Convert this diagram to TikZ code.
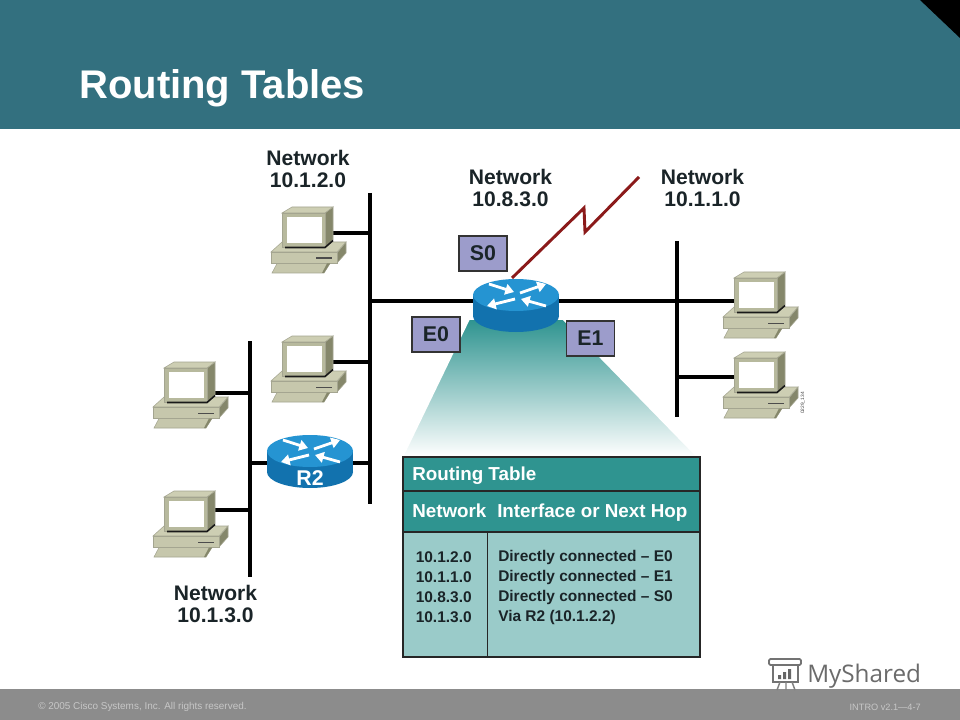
\documentclass[tikz,border=0pt]{standalone}
\usepackage{fontspec}
\setmainfont{Liberation Sans}
\newfontfamily\wmfont{Open Sans}
\usetikzlibrary{arrows.meta}
\pgfdeclarelayer{bg}
\pgfsetlayers{bg,main}
\definecolor{headerteal}{HTML}{33707F}
\definecolor{footgray}{HTML}{8C8C8C}
\definecolor{tealbar}{HTML}{2F9490}
\definecolor{tealbody}{HTML}{9ACBC9}
\definecolor{boxblue}{HTML}{9C9CCB}
\definecolor{redline}{HTML}{8B1A1A}
\definecolor{rtop}{HTML}{2594D2}
\definecolor{rside}{HTML}{1272AE}
\definecolor{pcfront}{HTML}{B7B99D}
\definecolor{pctop}{HTML}{CDCEB3}
\definecolor{pcside}{HTML}{85876B}
\definecolor{pcbase}{HTML}{C6C7AC}
\definecolor{textdark}{HTML}{1A2428}
\tikzset{
  x=0.75pt,y=-0.75pt,
  wire/.style={line width=2.4pt,black,line cap=butt},
  netlabel/.style={font=\fontsize{15.8pt}{16.5pt}\selectfont\bfseries,text=textdark,align=center,inner sep=0pt},
  portbox/.style={draw=black!80,line width=1.1pt,fill=boxblue,minimum width=36pt,minimum height=26pt,inner sep=0pt,font=\fontsize{16pt}{18pt}\selectfont\bfseries,text=textdark},
  tablehead/.style={font=\fontsize{14.1pt}{16pt}\selectfont\bfseries,text=white,anchor=base west,inner sep=0pt},
  tablerow/.style={font=\fontsize{11.6pt}{15pt}\selectfont\bfseries,text=textdark,align=left,anchor=west,inner sep=0pt},
  rarrow/.style={white,line width=2.1pt,-{Triangle[length=6.5pt,width=8pt]}},
  pcedge/.style={draw=pcside!75,line width=0.4pt},
}
\newcommand{\pcat}[4]{%
  \begin{scope}[shift={(#2,#3)}]
    \coordinate (#1-r) at (55,#4);
    \coordinate (#1-l) at (13,#4);
    \filldraw[pcedge,fill=pcside] (66,46) -- (75,35) -- (75,46) -- (66,56) -- cycle;
    \filldraw[pcedge,fill=pctop] (0,45) -- (11,35) -- (75,35) -- (66,45) -- cycle;
    \filldraw[pcedge,fill=pcbase] (0,45) rectangle (66,56);
    \fill[black!70] (45,50.5) rectangle (61,51.8);
    \filldraw[pcedge,fill=pcbase] (6,56.5) -- (59,56.5) -- (53,66) -- (1,66) -- cycle;
    \fill[pcside] (59,56.5) -- (53,66) -- (51,66) -- (56,56.5) -- cycle;
    \filldraw[pcedge,fill=pcside] (54,6) -- (62,0) -- (62,33) -- (54,40) -- cycle;
    \filldraw[pcedge,fill=pctop] (11,6) -- (21,0) -- (62,0) -- (54,6) -- cycle;
    \filldraw[pcedge,fill=pcfront] (11,6) rectangle (54,40);
    \fill[white] (15.5,10) rectangle (51,36);
    \draw[black!90,line width=1.2pt] (14,40.5) -- (54,40.5) -- (62,33.5);
  \end{scope}}
\newcommand{\routerat}[3]{%
  \begin{scope}[shift={(#2,#3)}]
    \fill[rside] (-43,0) rectangle (43,21);
    \fill[rside] (0,21) ellipse[x radius=43,y radius=16];
    \fill[rtop] (0,0) ellipse[x radius=43,y radius=16];
    \draw[rarrow] (-27,-11) -- (-2,-3);
    \draw[rarrow] (4,-2) -- (30,-11);
    \draw[rarrow] (-1,4) -- (-29,11);
    \draw[rarrow] (30,11) -- (5,4);
    \coordinate (#1) at (0,10);
  \end{scope}}
\begin{document}
\begin{tikzpicture}
\useasboundingbox (0,0) rectangle (960,720);
% bands and fan
\begin{pgfonlayer}{bg}
\fill[white] (0,0) rectangle (960,720);
\fill[headerteal] (0,0) rectangle (960,129);
\fill[black] (920,0) -- (960,38) -- (960,0) -- cycle;
\fill[footgray] (0,689) rectangle (960,720);
\fill[top color=tealbar,bottom color=white] (404,320) rectangle (696,457);
\fill[white] (470,319) -- (403,457.5) -- (403,319) -- cycle;
\fill[white] (562,319) -- (697,457.5) -- (697,319) -- cycle;
\end{pgfonlayer}
\node[font=\fontsize{30pt}{34pt}\selectfont\bfseries,text=white,anchor=base west,inner sep=0pt] (title) at (79,99) {Routing Tables};
\node[font=\fontsize{7.46pt}{8pt}\selectfont,text=black!22,anchor=west,inner sep=0pt] (copy) at (38,707) {© 2005 Cisco Systems, Inc. All rights reserved.};
\node[font=\fontsize{6.9pt}{8pt}\selectfont,text=black!22,anchor=east,inner sep=0pt] (intro) at (921,707) {INTRO v2.1—4-7};
% bus coordinates
\coordinate (busAt) at (370,193);
\coordinate (busAb) at (370,504);
\coordinate (busBt) at (677,241);
\coordinate (busBb) at (677,417);
\coordinate (busCt) at (250,341);
\coordinate (busCb) at (250,577);
\coordinate (lineA) at (370,301);
\coordinate (lineB) at (677,301);
\coordinate (lineC) at (250,463);
\coordinate (lineD) at (370,463);
\coordinate (z1) at (584,208);
\coordinate (z2) at (585,232);
\coordinate (z3) at (639,177);
% computers and routers
\pcat{pca}{271}{207}{26}
\pcat{pcb}{271}{336}{26}
\pcat{pcc}{153}{362}{31}
\pcat{pcd}{153}{491}{19}
\pcat{pce}{723}{272}{29}
\pcat{pcf}{723}{352}{25}
\routerat{rs}{516}{295}
\routerat{rr}{310}{451}
% wires
\begin{pgfonlayer}{bg}
\draw[wire] (busAt) -- (busAb);
\draw[wire] (busBt) -- (busBb);
\draw[wire] (busCt) -- (busCb);
\draw[wire] (lineA) -- (lineB);
\draw[wire] (lineC) -- (lineD);
\draw[wire] (pca-r) -- (pca-r -| busAt);
\draw[wire] (pcb-r) -- (pcb-r -| busAt);
\draw[wire] (pcc-r) -- (pcc-r -| busCt);
\draw[wire] (pcd-r) -- (pcd-r -| busCt);
\draw[wire] (pce-l) -- (pce-l -| busBt);
\draw[wire] (pcf-l) -- (pcf-l -| busBt);
\end{pgfonlayer}
\coordinate (z0) at (512,278);
\draw[redline,line width=2.2pt,line join=miter] (z0) -- (z1) -- (z2) -- (z3);
\node[font=\fontsize{16pt}{18pt}\selectfont\bfseries,text=white,inner sep=0pt] (r2) at (310,478) {R2};
% labels
\node[netlabel] (n1) at (308,169) {Network\\10.1.2.0};
\node[netlabel] (n2) at (510.5,188) {Network\\10.8.3.0};
\node[netlabel] (n3) at (702.5,188) {Network\\10.1.1.0};
\node[netlabel] (n4) at (215.5,604) {Network\\10.1.3.0};
\node[portbox] (s0) at (483,253.5) {S0};
\node[portbox] (e0) at (436,334.5) {E0};
\node[portbox] (e1) at (590.5,338.5) {E1};
% table
\draw[line width=1.2pt,black!85,fill=tealbody] (403,457) rectangle (700,657);
\draw[line width=1.2pt,black!85,fill=tealbar] (403,457) rectangle (700,491);
\draw[line width=1.2pt,black!85,fill=tealbar] (403,491) rectangle (700,532);
\draw[line width=1.2pt,black!85] (487.5,532) -- (487.5,657);
\node[tablehead] (th) at (412,480) {Routing Table};
\node[tablehead] (tn) at (412,517) {Network};
\node[tablehead] (ti) at (497,517) {Interface or Next Hop};
\node[tablerow] (c1) at (415.5,587) {10.1.2.0\\10.1.1.0\\10.8.3.0\\10.1.3.0};
\node[tablerow] (c2) at (498,587) {Directly connected – E0\\Directly connected – E1\\Directly connected – S0\\Via R2 (10.1.2.2)};
\node[font=\fontsize{3.6pt}{4pt}\selectfont,text=black!75,rotate=90,inner sep=0pt] (code) at (803,403) {0229\_134};
% watermark
\draw[line width=1.3pt,black!55,fill=white] (773,664) rectangle (798,682);
\draw[line width=1.3pt,black!55,fill=white,rounded corners=1pt] (769,659) rectangle (801,665);
\fill[black!60] (778,675) rectangle (781,679) (783,672) rectangle (786,679) (788,669) rectangle (791,679);
\draw[line width=1.1pt,black!50] (780,682) -- (777,690) (786,682) -- (786,690) (792,682) -- (795,690);
\node[font=\wmfont\fontsize{18.2pt}{22pt}\selectfont,text=black!58,anchor=base west,inner sep=0pt] (ms) at (807,682) {MyShared};
\end{tikzpicture}
\end{document}
